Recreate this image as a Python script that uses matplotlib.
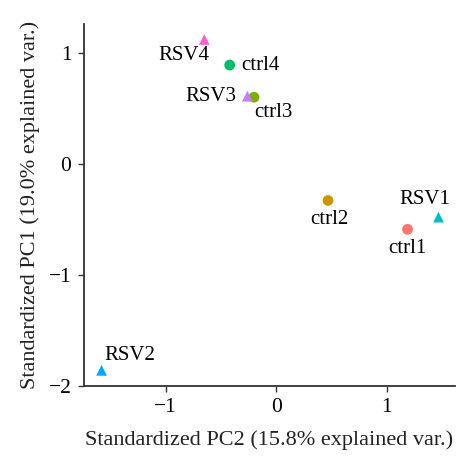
import numpy as np
import matplotlib
matplotlib.use("Agg")
import matplotlib.pyplot as plt

plt.rcParams['font.family'] = ['Liberation Serif', 'DejaVu Serif']

# sample names, PC2 (x) and PC1 (y) scores
names = ['ctrl1', 'ctrl2', 'ctrl3', 'ctrl4', 'RSV1', 'RSV2', 'RSV3', 'RSV4']
pc2 = [1.19, 0.47, -0.20, -0.42, 1.47, -1.58, -0.26, -0.65]
pc1 = [-0.59, -0.33, 0.60, 0.89, -0.48, -1.86, 0.61, 1.12]
colors = ['#F8766D', '#CD9600', '#7CAE00', '#00BE67',
          '#00BFC4', '#00A9FF', '#C77CFF', '#FF61CC']
markers = ['o', 'o', 'o', 'o', '^', '^', '^', '^']

# label offsets (points) and alignment
offsets = {
    'ctrl1': (0, -7, 'center', 'top'),
    'ctrl2': (1, -7, 'center', 'top'),
    'ctrl3': (0, -4, 'left', 'top'),
    'ctrl4': (8, 0, 'left', 'center'),
    'RSV1': (-10, 6, 'center', 'bottom'),
    'RSV2': (2, 4, 'left', 'bottom'),
    'RSV3': (-8, 0, 'right', 'center'),
    'RSV4': (4, -5, 'right', 'top'),
}

fig = plt.figure(figsize=(4.74, 4.70), dpi=100)
ax = fig.add_axes([0.177, 0.179, 0.783, 0.77])

for n, x, y, c, m in zip(names, pc2, pc1, colors, markers):
    ax.scatter(x, y, color=c, marker=m, s=60, edgecolors='none', zorder=3)
    dx, dy, ha, va = offsets[n]
    ax.annotate(n, (x, y), xytext=(dx, dy), textcoords='offset points',
                ha=ha, va=va, fontsize=15, color='black')

ax.set_xlim(-1.74, 1.62)
ax.set_ylim(-2.0, 1.26)
ax.set_xticks([-1, 0, 1])
ax.set_yticks([-2, -1, 0, 1])
ax.set_xticklabels(['\u22121', '0', '1'])
ax.set_yticklabels(['\u22122', '\u22121', '0', '1'])

for s in ['top', 'right']:
    ax.spines[s].set_visible(False)
for s in ['left', 'bottom']:
    ax.spines[s].set_color('#333333')
    ax.spines[s].set_linewidth(1.3)
ax.tick_params(length=4, width=1.0, color='#333333', labelsize=15.5, pad=5)

ax.set_xlabel('Standardized PC2 (15.8% explained var.)', fontsize=16, color='#222222', labelpad=9)
ax.set_ylabel('Standardized PC1 (19.0% explained var.)', fontsize=16, color='#222222', labelpad=6)

fig.savefig('out.png', dpi=100)
